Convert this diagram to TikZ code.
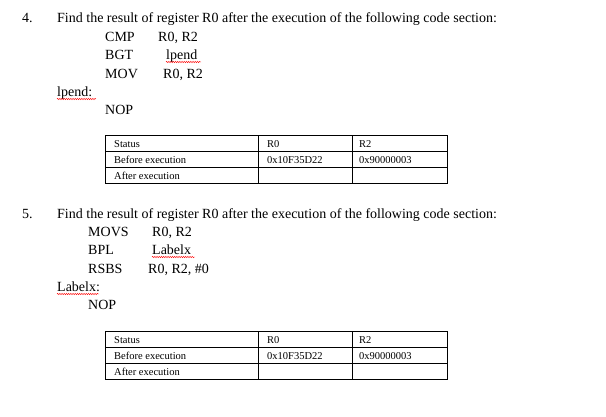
\documentclass[tikz,border=0pt]{standalone}
\usepackage{fontspec}
\setmainfont{Liberation Serif}
\usetikzlibrary{decorations.pathmorphing}
\begin{document}
\begin{tikzpicture}[x=1pt,y=-1pt,
  txt/.style={anchor=base west,inner sep=0pt,font=\fontsize{14}{16}\selectfont},
  cell/.style={anchor=base west,inner sep=0pt,font=\fontsize{10.5}{12}\selectfont},
  wavy/.style={draw=red,decorate,decoration={snake,amplitude=0.7pt,segment length=2.2pt}},
  grid/.style={draw=black,line width=0.8pt}]
\useasboundingbox (0,0) rectangle (606,416);
% question 4
\node[txt] (n4) at (22,22) {4.};
\node[txt] (q4) at (57,22) {Find the result of register R0 after the execution of the following code section:};
\node[txt] (c1) at (105,41) {CMP};
\node[txt] (a1) at (158,41) {R0, R2};
\node[txt] (c2) at (105,59) {BGT};
\node[txt] (a2) at (166,59) {lpend};
\node[txt] (c3) at (105,78) {MOV};
\node[txt] (a3) at (163,78) {R0, R2};
\node[txt] (l1) at (57,96) {lpend:};
\node[txt] (c4) at (105,114) {NOP};
\path[wavy] (a2.base west)++(0,3) -- ++(35,0);
\path[wavy] (l1.base west)++(0,3) -- ++(39,0);
% table 1
\draw[grid] (105,135) rectangle (447,183);
\draw[grid] (105,151) -- (447,151) (105,167) -- (447,167) (258,135) -- (258,183) (352,135) -- (352,183);
\node[cell] (t11) at (114,147) {Status};
\node[cell] (t12) at (267,147) {R0};
\node[cell] (t13) at (359,147) {R2};
\node[cell] (t21) at (114,163) {Before execution};
\node[cell] (t22) at (267,163) {0x10F35D22};
\node[cell] (t23) at (359,163) {0x90000003};
\node[cell] (t31) at (114,179) {After execution};
% question 5
\node[txt] (n5) at (22,218) {5.};
\node[txt] (q5) at (57,218) {Find the result of register R0 after the execution of the following code section:};
\node[txt] (d1) at (88,236) {MOVS};
\node[txt] (b1) at (152,236) {R0, R2};
\node[txt] (d2) at (88,254) {BPL};
\node[txt] (b2) at (152,254) {Labelx};
\node[txt] (d3) at (88,273) {RSBS};
\node[txt] (b3) at (148,273) {R0, R2, \#0};
\node[txt] (l2) at (57,291) {Labelx:};
\node[txt] (d4) at (88,309) {NOP};
\path[wavy] (b2.base west)++(0,3) -- ++(43,0);
\path[wavy] (l2.base west)++(0,3) -- ++(42,0);
% table 2
\draw[grid] (105,331) rectangle (447,379);
\draw[grid] (105,347) -- (447,347) (105,363) -- (447,363) (258,331) -- (258,379) (352,331) -- (352,379);
\node[cell] (s11) at (114,343) {Status};
\node[cell] (s12) at (267,343) {R0};
\node[cell] (s13) at (359,343) {R2};
\node[cell] (s21) at (114,359) {Before execution};
\node[cell] (s22) at (267,359) {0x10F35D22};
\node[cell] (s23) at (359,359) {0x90000003};
\node[cell] (s31) at (114,375) {After execution};
\end{tikzpicture}
\end{document}
